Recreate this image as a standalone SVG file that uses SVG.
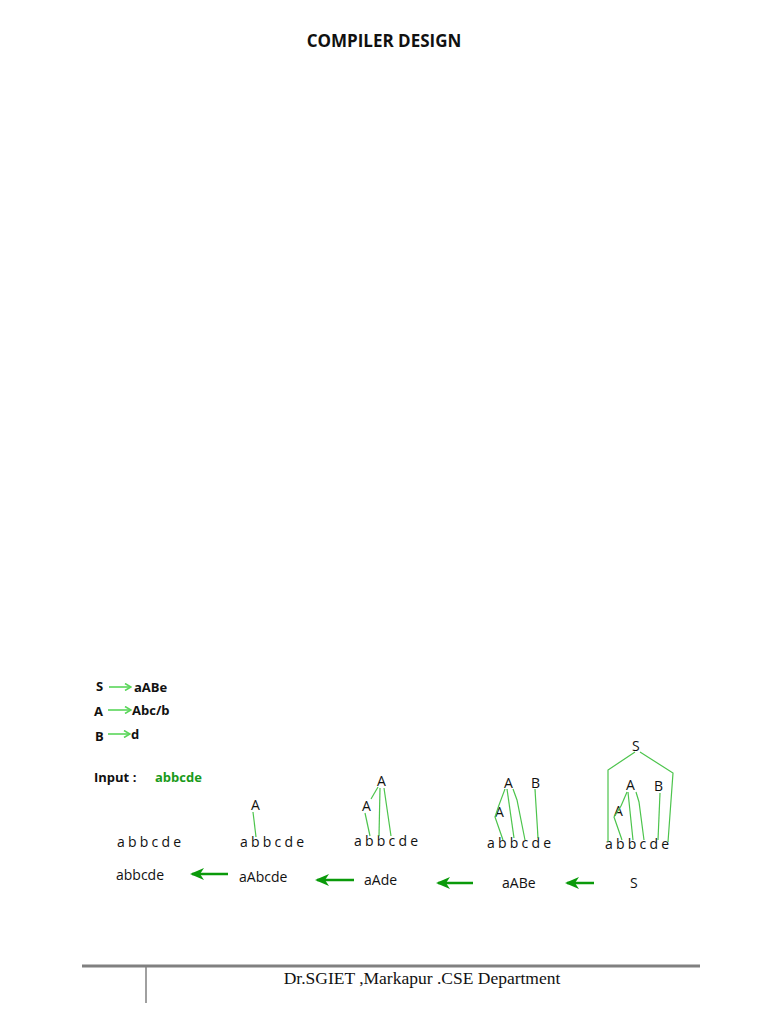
<svg xmlns="http://www.w3.org/2000/svg" width="768" height="1024" viewBox="0 0 768 1024">
<defs>
<style>
.t{font-family:"Open Sans","Liberation Sans",sans-serif;font-size:13px;fill:#111}
.s{font-size:14px;letter-spacing:3.2px}
.r{font-size:14px}
.b{font-weight:bold}
.g{fill:#1a9a1a}
.tl{stroke:#4cc44c;stroke-width:1.2;fill:none}
.la{stroke:#5ad65a;stroke-width:1.6;fill:none}
.da{stroke:#0a9a0a;stroke-width:2.5;fill:none}
</style>
<marker id="lh" markerWidth="8" markerHeight="8" refX="7" refY="4" orient="auto" markerUnits="userSpaceOnUse">
<path d="M1,0.5 L7,4 L1,7.5" fill="none" stroke="#5ad65a" stroke-width="1.6"/>
</marker>
<marker id="dh" markerWidth="14" markerHeight="12" refX="12" refY="6" orient="auto" markerUnits="userSpaceOnUse">
<path d="M0,0 L14,6 L0,12 L4,6 Z" fill="#0a9a0a"/>
</marker>
</defs>
<rect width="768" height="1024" fill="#fff"/>
<text x="384" y="47" text-anchor="middle" style="font-family:'Open Sans','Liberation Sans',sans-serif;font-size:17px;font-weight:bold;fill:#111">COMPILER DESIGN</text>

<g id="grammar">
<text class="t b" x="96" y="691">S</text>
<text class="t b" x="134" y="692">aABe</text>
<text class="t b" x="94" y="716">A</text>
<text class="t b" x="132" y="715">Abc/b</text>
<text class="t b" x="95" y="741">B</text>
<text class="t b" x="131" y="739">d</text>
<text class="t b" x="94" y="782">Input :</text>
<text class="t b g" x="155" y="782">abbcde</text>
</g>

<g id="tree1">
<text class="t s" x="117" y="847">abbcde</text>
</g>
<g id="tree2">
<text class="t r" x="251" y="810">A</text>
<text class="t s" x="240" y="847">abbcde</text>
</g>
<g id="tree3">
<text class="t r" x="377" y="786">A</text>
<text class="t r" x="362" y="811">A</text>
<text class="t s" x="354" y="846">abbcde</text>
</g>
<g id="tree4">
<text class="t r" x="504" y="788">A</text>
<text class="t r" x="531" y="788">B</text>
<text class="t r" x="495" y="817">A</text>
<text class="t s" x="487" y="848">abbcde</text>
</g>
<g id="tree5">
<text class="t r" x="632" y="751">S</text>
<text class="t r" x="626" y="790">A</text>
<text class="t r" x="654" y="791">B</text>
<text class="t r" x="614" y="816">A</text>
<text class="t s" x="605" y="849">abbcde</text>
</g>

<g id="row2">
<text class="t r" x="116" y="880">abbcde</text>
<text class="t r" x="239" y="882">aAbcde</text>
<text class="t r" x="364" y="885">aAde</text>
<text class="t r" x="502" y="888">aABe</text>
<text class="t r" x="630" y="888">S</text>
</g>

<g id="connectors">
<line class="la" x1="109" y1="687" x2="131" y2="687" marker-end="url(#lh)"/>
<line class="la" x1="108" y1="710" x2="131" y2="710" marker-end="url(#lh)"/>
<line class="la" x1="108" y1="734" x2="130" y2="734" marker-end="url(#lh)"/>

<line class="tl" x1="253" y1="812" x2="256" y2="837"/>

<line class="tl" x1="378" y1="787" x2="371" y2="799"/>
<line class="tl" x1="365" y1="813" x2="370" y2="836"/>
<line class="tl" x1="380" y1="788" x2="379" y2="836"/>
<line class="tl" x1="384" y1="788" x2="391" y2="836"/>

<line class="tl" x1="505" y1="789" x2="499" y2="805"/>
<polyline class="tl" points="499,805 495,817 503,840"/>
<line class="tl" x1="507" y1="789" x2="514" y2="838"/>
<polyline class="tl" points="513,789 517,800 525,840"/>
<line class="tl" x1="535" y1="789" x2="538" y2="838"/>

<polyline class="tl" points="635,752 608,770 608,842"/>
<polyline class="tl" points="640,752 673,773 668,842"/>
<line class="tl" x1="627" y1="792" x2="621" y2="806"/>
<polyline class="tl" points="621,806 614,817 622,840"/>
<line class="tl" x1="628" y1="792" x2="633" y2="840"/>
<polyline class="tl" points="636,792 639,802 644,840"/>
<line class="tl" x1="660" y1="793" x2="658" y2="840"/>

<line class="da" x1="228" y1="874" x2="192" y2="874" marker-end="url(#dh)"/>
<line class="da" x1="354" y1="880" x2="317" y2="880" marker-end="url(#dh)"/>
<line class="da" x1="473" y1="883" x2="438" y2="883" marker-end="url(#dh)"/>
<line class="da" x1="594" y1="883" x2="567" y2="883" marker-end="url(#dh)"/>
</g>

<g id="footer">
<line x1="82" y1="966" x2="700" y2="966" stroke="#808080" stroke-width="3"/>
<line x1="146" y1="967" x2="146" y2="1003" stroke="#808080" stroke-width="1.5"/>
<text x="422" y="984" text-anchor="middle" style="font-family:'Liberation Serif',serif;font-size:17.5px;fill:#111">Dr.SGIET ,Markapur .CSE Department</text>
</g>
</svg>
